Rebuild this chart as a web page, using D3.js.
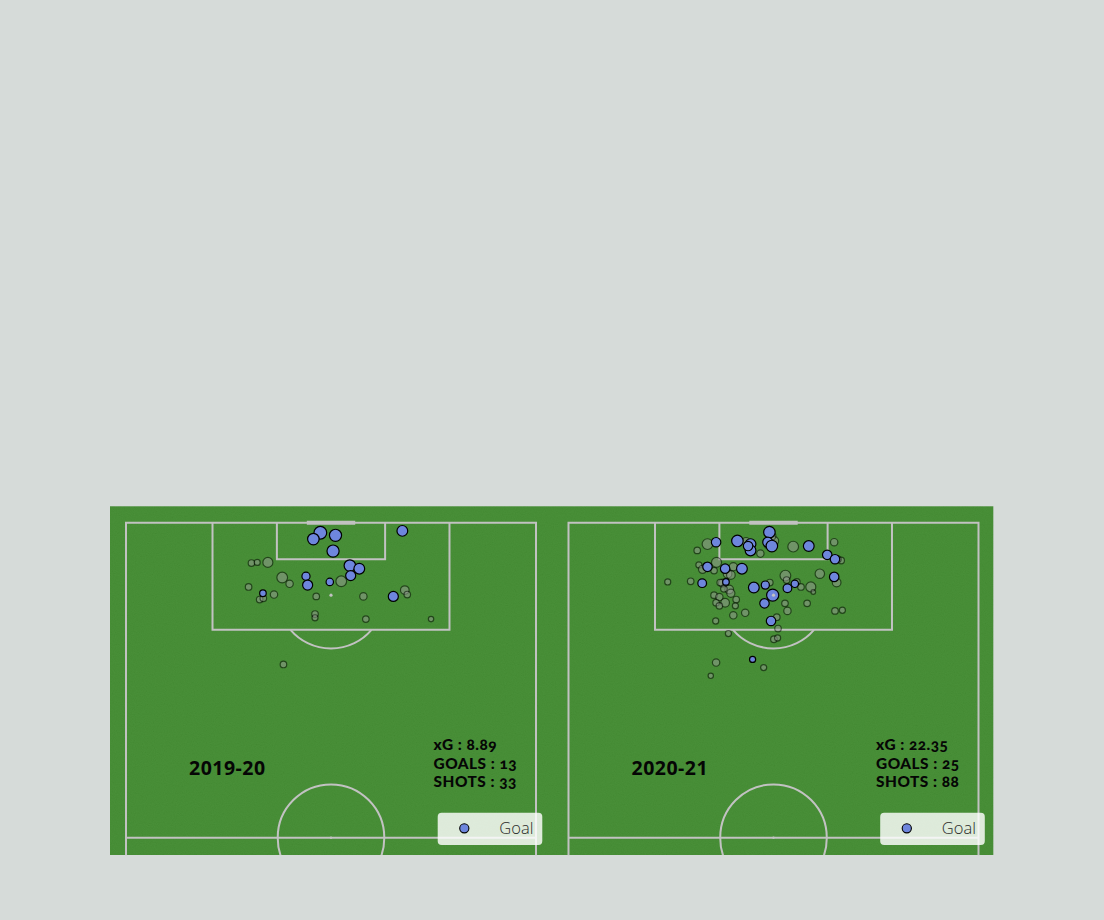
<!DOCTYPE html>
<html>
<head>
<meta charset="utf-8">
<script src="https://cdn.jsdelivr.net/npm/d3@7"></script>
<style>
  html, body { margin: 0; padding: 0; background: #d6dbd9; }
  svg { display: block; }
</style>
</head>
<body>
<script>
// ---------- DATA ----------
const seasons = ["2019-20", "2020-21"];
const xgTotals = [8.89, 22.35];
const goalTotals = [13, 25];
const shotTotals = [33, 88];
const legendLabels = ["Goal"];

// shots: [across-pitch position (0-100), length position (Opta, 100 = goal line), xG, isGoal]
const shots2019_20 = [
  [30.6,93.6,.15,0],[32.0,93.7,.13,0],[34.6,93.7,.35,0],[38.1,91.3,.40,0],[39.9,90.3,.19,0],
  [29.9,89.8,.15,0],[36.1,88.6,.19,0],[32.6,87.8,.15,0],[33.5,88.0,.15,0],[46.4,88.3,.15,0],
  [52.5,90.7,.40,0],[57.9,88.3,.19,0],[68.0,89.3,.26,0],[68.6,88.6,.15,0],[46.1,85.5,.15,0],
  [46.1,84.9,.13,0],[58.5,84.7,.15,0],[74.4,84.7,.10,0],[38.4,77.5,.15,0],[50.5,95.5,.20,0],
  [47.4,98.4,.56,1],[45.7,97.4,.46,1],[51.1,98.0,.51,1],[50.5,95.5,.51,1],[67.4,98.7,.40,1],
  [54.6,93.2,.46,1],[56.9,92.7,.40,1],[54.8,91.6,.35,1],[43.9,91.5,.23,1],[44.3,90.1,.35,1],
  [49.7,90.6,.19,1],[33.4,88.8,.15,1],[65.2,88.3,.35,1]
];

const shots2020_21 = [
  [31.4,95.6,.15,0],[33.9,96.6,.40,0],[36.1,93.7,.35,0],[46.8,95.1,.19,0],[43.3,97.0,.23,0],
  [50.2,97.1,.26,0],[54.8,96.2,.40,0],[64.8,96.9,.19,0],[66.5,94.0,.15,0],[31.8,93.3,.13,0],
  [32.7,92.6,.23,0],[35.5,92.4,.15,0],[29.8,90.7,.15,0],[24.2,90.6,.13,0],[37.6,90.4,.23,0],
  [37.0,90.5,.15,0],[38.8,91.9,.26,0],[39.6,91.7,.26,0],[39.2,89.4,.26,0],[39.6,88.8,.23,0],
  [37.9,89.5,.15,0],[35.5,88.5,.15,0],[36.8,88.2,.19,0],[38.2,87.3,.26,0],[36.0,87.3,.15,0],
  [36.8,86.8,.15,0],[40.9,87.8,.15,0],[40.7,86.8,.13,0],[40.2,85.3,.19,0],[43.1,85.7,.19,0],
  [35.9,84.4,.13,0],[39.0,82.4,.13,0],[52.9,91.6,.40,0],[53.2,90.9,.15,0],[55.7,90.6,.15,0],
  [56.7,89.8,.15,0],[59.1,89.8,.35,0],[59.7,89.0,.075,0],[61.3,91.9,.31,0],[65.4,90.5,.26,0],
  [52.8,87.2,.15,0],[53.4,86.0,.19,0],[58.2,87.2,.15,0],[65.0,86.0,.15,0],[66.8,86.1,.13,0],
  [50.8,85.0,.15,0],[51.1,83.2,.15,0],[50.1,81.5,.15,0],[51.0,81.7,.13,0],[49.1,90.5,.15,0],
  [36.0,77.8,.19,0],[47.6,77.0,.13,0],[34.7,75.7,.10,0],[40.2,93.0,.23,0],[44.3,95.8,.23,0],
  [48.7,96.5,.23,0],[49.6,97.9,.23,0],[42.3,92.5,.19,0],[38.4,90.6,.13,0],[45.5,89.6,.19,0],
  [65.7,94.2,.15,0],[33.6,93.1,.15,0],[32.8,90.4,.19,0],
  [36.0,96.9,.31,1],[41.2,97.1,.46,1],[44.4,96.6,.40,1],[44.4,95.6,.40,1],[49.0,98.5,.46,1],
  [48.6,96.9,.35,1],[49.6,96.3,.46,1],[58.6,96.3,.40,1],[63.1,94.9,.31,1],[65.0,94.2,.31,1],
  [33.9,93.0,.31,1],[38.2,92.7,.31,1],[42.3,92.7,.40,1],[64.8,91.4,.31,1],[32.6,90.4,.26,1],
  [38.4,90.6,.15,1],[45.2,89.7,.40,1],[48.0,90.1,.23,1],[53.4,89.6,.26,1],[55.2,90.3,.19,1],
  [49.8,88.5,.51,1],[47.8,87.2,.31,1],[49.4,84.4,.31,1],[44.9,78.3,.13,1],[43.8,96.3,.31,1]
];

const seasonShots = [shots2019_20, shots2020_21];

// Opta pitch markings (across: 0-100, length: 0-100)
const pitch = {
  boxLeft: 21.1, boxRight: 78.9, boxDepth: 83,
  sixLeft: 36.8, sixRight: 63.2, sixDepth: 94.2,
  goalLeft: 44.1, goalRight: 55.9,
  penSpot: 88.5, halfway: 50, circleR: 8.46, bottom: 47.2
};

// ---------- LAYOUT ----------
const W = 1104, H = 920;
const panelLefts = [126, 568.5];
const panelWidth = 410;
const colors = {
  bg: "#d6dbd9", grass: "#3e8a2c", line: "#c2c2c2",
  goal: "#6e86dd", miss: "#9a9a9a", text: "#050505"
};
const fontBold = "'Open Sans', 'Noto Sans', sans-serif";
const fontStats = "Lato, 'Open Sans', sans-serif";

const svg = d3.select("body").append("svg").attr("width", W).attr("height", H);
svg.append("rect").attr("width", W).attr("height", H).attr("fill", colors.bg);

const defs = svg.append("defs");
const f = defs.append("filter").attr("id", "grain").attr("x", 0).attr("y", 0).attr("width", "100%").attr("height", "100%");
f.append("feTurbulence").attr("type", "fractalNoise").attr("baseFrequency", 0.9).attr("numOctaves", 2).attr("seed", 4);
f.append("feColorMatrix").attr("type", "matrix")
  .attr("values", "0.33 0.33 0.33 0 0  0.33 0.33 0.33 0 0  0.33 0.33 0.33 0 0  0 0 0 0 1");

const yScale = d3.scaleLinear().domain([100, 50]).range([522.7, 837.7]);
const rScale = d3.scaleSqrt().domain([0, 1]).range([0, 8.5]);

// grass
svg.append("rect").attr("x", 110).attr("y", 506.3).attr("width", 883.3).attr("height", 348.7).attr("fill", colors.grass);
svg.append("rect").attr("x", 110).attr("y", 506.3).attr("width", 883.3).attr("height", 348.7)
  .attr("filter", "url(#grain)").attr("opacity", 0.07);

seasons.forEach((season, i) => {
  const left = panelLefts[i];
  const xScale = d3.scaleLinear().domain([0, 100]).range([left, left + panelWidth]);
  const g = svg.append("g");
  const lineAttr = sel => sel.attr("stroke", colors.line).attr("stroke-width", 2).attr("fill", "none");

  // touchlines & goal line & halfway
  g.append("path").call(lineAttr).attr("d", d3.line()([
    [xScale(0), yScale(pitch.bottom)], [xScale(0), yScale(100)],
    [xScale(100), yScale(100)], [xScale(100), yScale(pitch.bottom)]
  ]));
  g.append("line").call(lineAttr).attr("x1", xScale(0)).attr("x2", xScale(100))
    .attr("y1", yScale(pitch.halfway)).attr("y2", yScale(pitch.halfway));
  // penalty box
  g.append("path").call(lineAttr).attr("d", d3.line()([
    [xScale(pitch.boxLeft), yScale(100)], [xScale(pitch.boxLeft), yScale(pitch.boxDepth)],
    [xScale(pitch.boxRight), yScale(pitch.boxDepth)], [xScale(pitch.boxRight), yScale(100)]
  ]));
  // six-yard box
  g.append("path").call(lineAttr).attr("d", d3.line()([
    [xScale(pitch.sixLeft), yScale(100)], [xScale(pitch.sixLeft), yScale(pitch.sixDepth)],
    [xScale(pitch.sixRight), yScale(pitch.sixDepth)], [xScale(pitch.sixRight), yScale(100)]
  ]));
  // goal
  g.append("line").attr("stroke", colors.line).attr("stroke-width", 4)
    .attr("x1", xScale(pitch.goalLeft)).attr("x2", xScale(pitch.goalRight))
    .attr("y1", yScale(100)).attr("y2", yScale(100));
  // penalty arc (outside box)
  const rPx = yScale(100 - pitch.circleR) - yScale(100);
  const cx = xScale(50), cy = yScale(pitch.penSpot);
  const dy = yScale(pitch.boxDepth) - cy;
  const ang = Math.acos(dy / rPx);
  g.append("path").call(lineAttr)
    .attr("transform", `translate(${cx},${cy})`)
    .attr("d", d3.arc()({innerRadius: rPx, outerRadius: rPx, startAngle: Math.PI - ang, endAngle: Math.PI + ang}));
  // centre circle (clipped)
  const clipId = "clip" + i;
  defs.append("clipPath").attr("id", clipId).append("rect")
    .attr("x", 110).attr("y", 506.3).attr("width", 883.3).attr("height", 348.7);
  g.append("circle").call(lineAttr).attr("clip-path", `url(#${clipId})`)
    .attr("cx", xScale(50)).attr("cy", yScale(pitch.halfway)).attr("r", rPx);
  g.append("circle").attr("fill", colors.line).attr("cx", xScale(50)).attr("cy", yScale(pitch.halfway)).attr("r", 1.2);

  // shots
  const data = seasonShots[i];
  const misses = data.filter(d => !d[3]);
  const goals = data.filter(d => d[3]);
  g.selectAll("circle.miss").data(misses).join("circle").attr("class", "miss")
    .attr("cx", d => xScale(d[0])).attr("cy", d => yScale(d[1])).attr("r", d => rScale(d[2]))
    .attr("fill", colors.miss).attr("stroke", "#000").attr("stroke-width", 1.2).attr("opacity", 0.5);
  g.selectAll("circle.goal").data(goals).join("circle").attr("class", "goal")
    .attr("cx", d => xScale(d[0])).attr("cy", d => yScale(d[1])).attr("r", d => rScale(d[2]))
    .attr("fill", colors.goal).attr("stroke", "#000").attr("stroke-width", 1.2);
  // penalty spot on top
  g.append("circle").attr("fill", colors.line).attr("cx", xScale(50)).attr("cy", yScale(pitch.penSpot)).attr("r", 1.6);

  // season label
  g.append("text").attr("x", left + 63).attr("y", 775)
    .attr("font-family", fontBold).attr("font-weight", 700)
    .attr("font-size", 19.5).attr("letter-spacing", 0.5).attr("fill", colors.text).text(season);

  // stats
  const stats = [`xG : ${xgTotals[i]}`, `GOALS : ${goalTotals[i]}`, `SHOTS : ${shotTotals[i]}`];
  g.selectAll("text.stat").data(stats).join("text").attr("class", "stat")
    .attr("x", left + 307.5).attr("y", (d, k) => 750 + k * 18.6)
    .attr("font-family", fontStats).attr("font-weight", 900)
    .attr("font-size", 15.4).attr("letter-spacing", 0.5)
    .style("font-variant-numeric", "oldstyle-nums")
    .attr("fill", colors.text).text(d => d);

  // legend
  const lg = g.append("g");
  lg.append("rect").attr("x", left + 311.7).attr("y", 812.7).attr("width", 104.6).attr("height", 32.3)
    .attr("rx", 4).attr("fill", "#ffffff").attr("fill-opacity", 0.82);
  lg.append("circle").attr("cx", left + 338.3).attr("cy", 828.3).attr("r", 4.6)
    .attr("fill", colors.goal).attr("stroke", "#000").attr("stroke-width", 1.1);
  lg.append("text").attr("x", left + 373.3).attr("y", 833.6)
    .attr("font-family", fontBold).attr("font-weight", 300)
    .attr("font-size", 16.5).attr("fill", "#2a2a2a").text(legendLabels[0]);
});
</script>
</body>
</html>
